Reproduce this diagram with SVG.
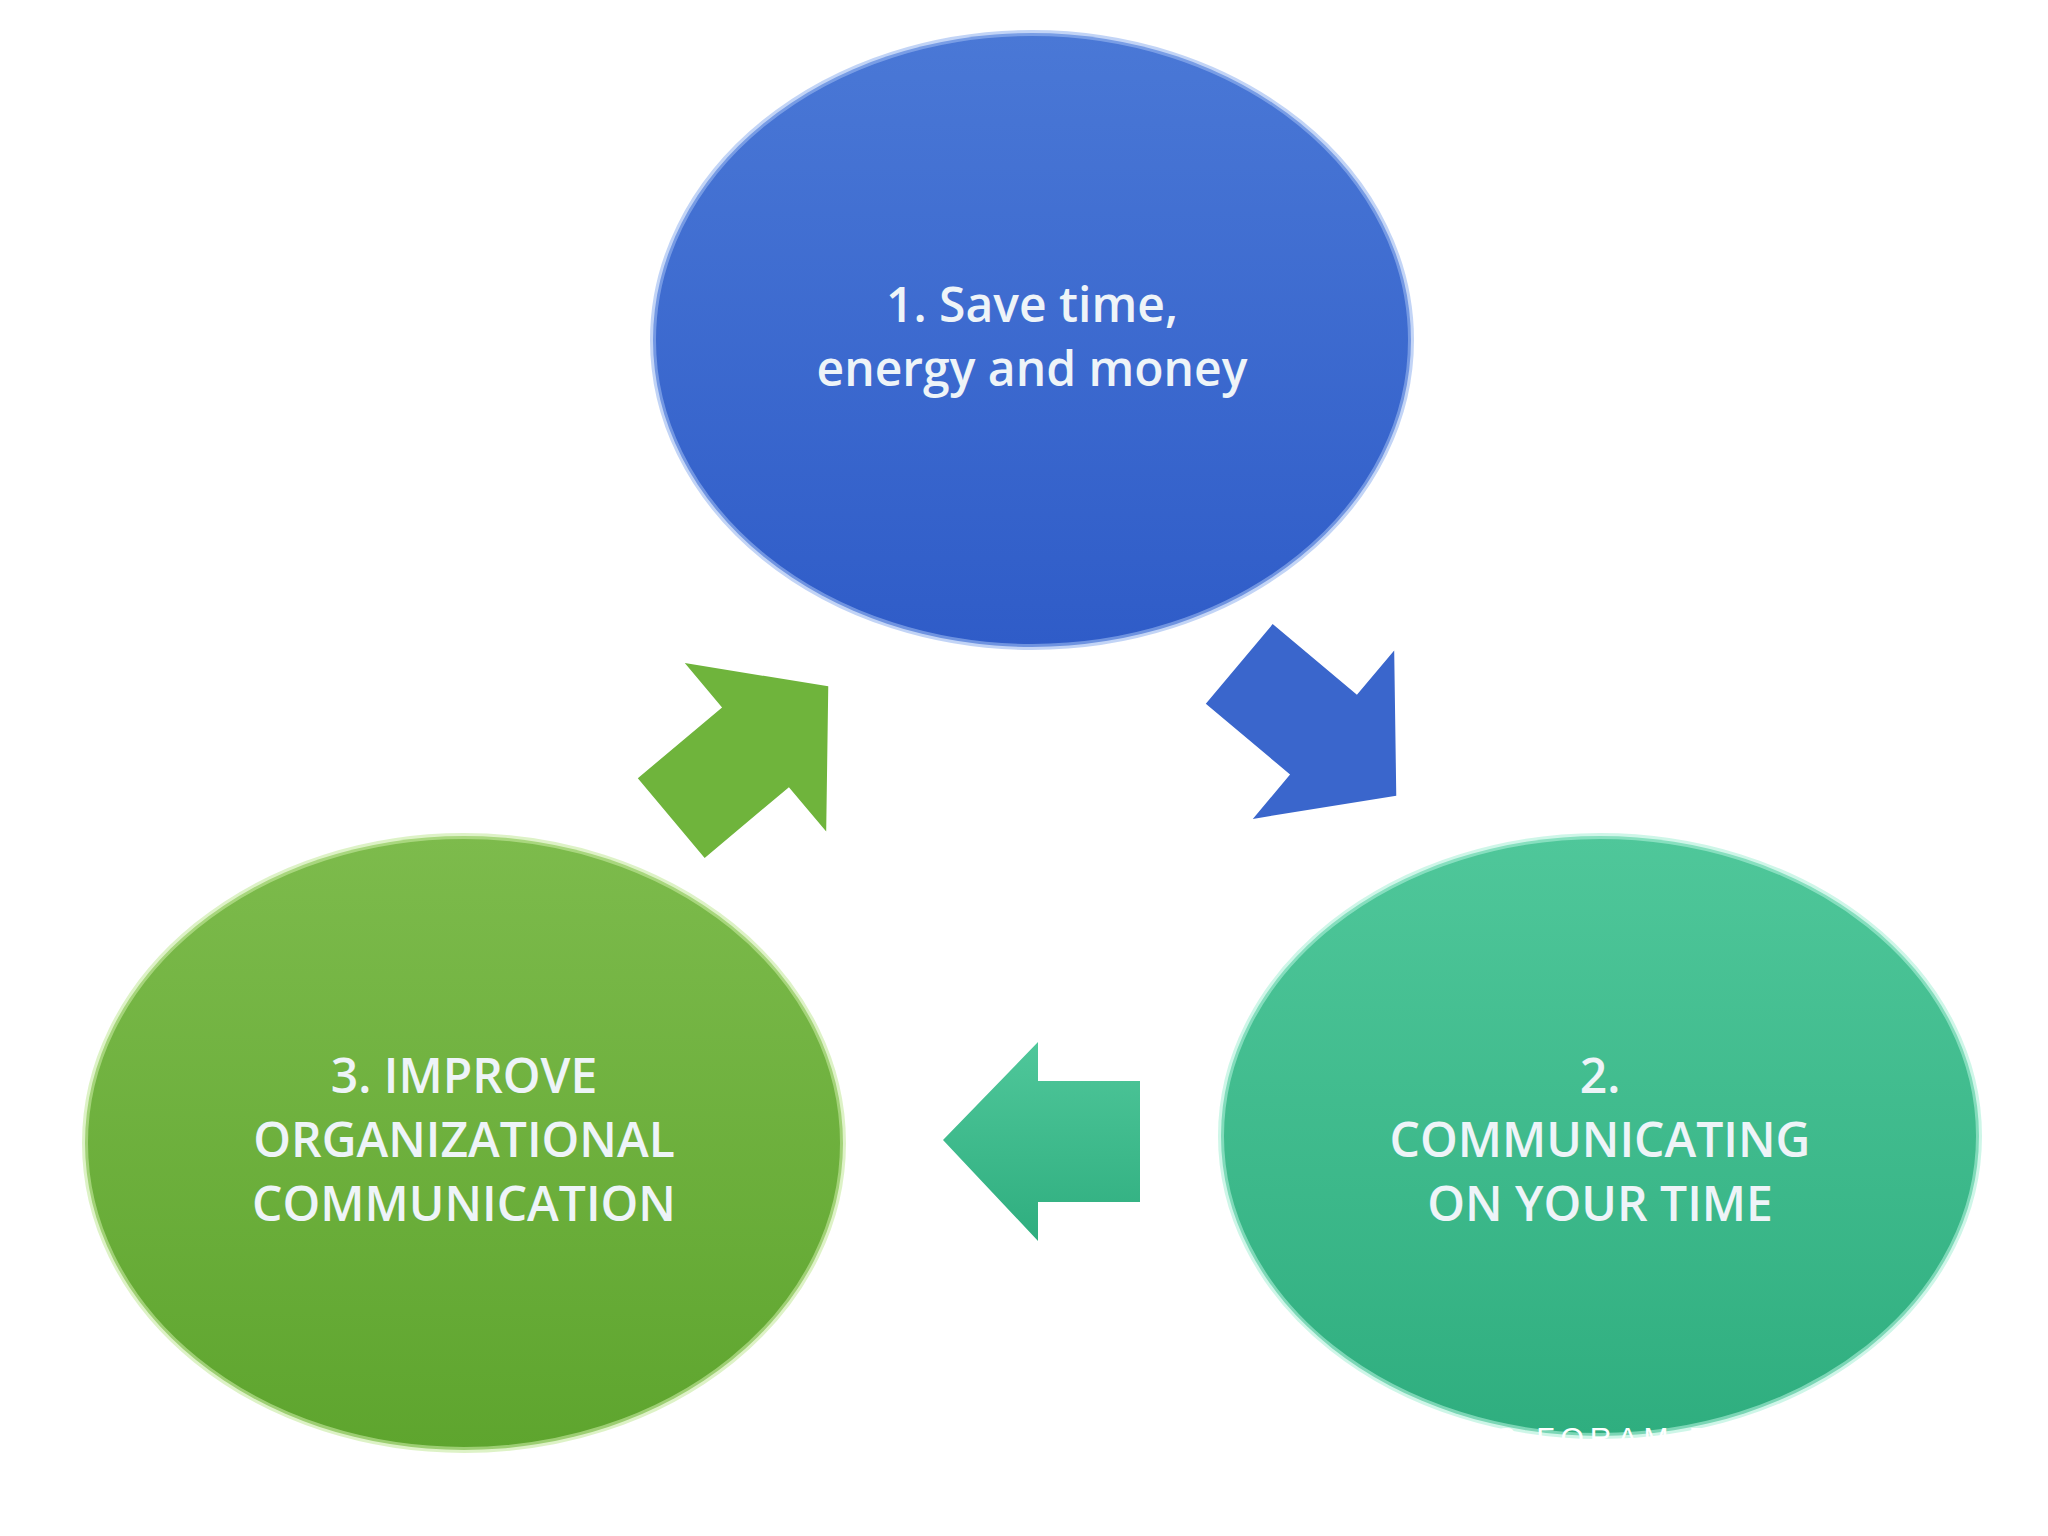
<svg xmlns="http://www.w3.org/2000/svg" width="2048" height="1536" viewBox="0 0 2048 1536">
<defs>
<linearGradient id="gb" x1="0" y1="0" x2="0" y2="1"><stop offset="0" stop-color="#4a78d6"/><stop offset="1" stop-color="#2f5cc8"/></linearGradient>
<linearGradient id="gg" x1="0" y1="0" x2="0" y2="1"><stop offset="0" stop-color="#7dbb4c"/><stop offset="1" stop-color="#5ea52e"/></linearGradient>
<linearGradient id="gt" x1="0" y1="0" x2="0" y2="1"><stop offset="0" stop-color="#4fc79a"/><stop offset="1" stop-color="#2fae7f"/></linearGradient>
<style>
.t{font-family:"Open Sans","Liberation Sans",sans-serif;fill:#eef4f8;text-anchor:middle;font-size:48px;font-weight:600}
.r{stroke-width:6;stroke-opacity:0.6}
</style>
</defs>
<rect width="2048" height="1536" fill="#fff"/>
<g id="node1"><ellipse cx="1032" cy="340" rx="379" ry="307" fill="url(#gb)" class="r" stroke="#9ab8f0"/>
<text class="t" x="1032" y="322">1. Save time,</text><text class="t" x="1032" y="386">energy and money</text></g>
<g id="node2"><ellipse cx="1600" cy="1136" rx="379" ry="300" fill="url(#gt)" class="r" stroke="#aef0d8"/>
<text class="t" x="1600" y="1093">2.</text><text class="t" x="1600" y="1157">COMMUNICATING</text><text class="t" x="1600" y="1221">ON YOUR TIME</text></g>
<g id="node3"><ellipse cx="464" cy="1143" rx="379" ry="307" fill="url(#gg)" class="r" stroke="#c6eaa0"/>
<text class="t" x="464" y="1093">3. IMPROVE</text><text class="t" x="464" y="1157">ORGANIZATIONAL</text><text class="t" x="464" y="1221">COMMUNICATION</text></g>
<g id="connectors">
<polygon transform="translate(1312,725) rotate(40)" points="-95,-52 15,-52 15,-110 110,0 15,110 15,52 -95,52" fill="#3a66cc"/>
<polygon points="1140,1081 1038,1081 1038,1042 943,1140 1038,1241 1038,1202 1140,1202" fill="url(#gt)"/>
<polygon transform="translate(744,757) rotate(-40)" points="-95,-52 15,-52 15,-110 110,0 15,110 15,52 -95,52" fill="#6fb43c"/>
</g>
<text x="1425" y="1448" font-family="Liberation Sans,sans-serif" font-size="30" letter-spacing="6" fill="#fff">Y MS FORAM PA</text>
</svg>
